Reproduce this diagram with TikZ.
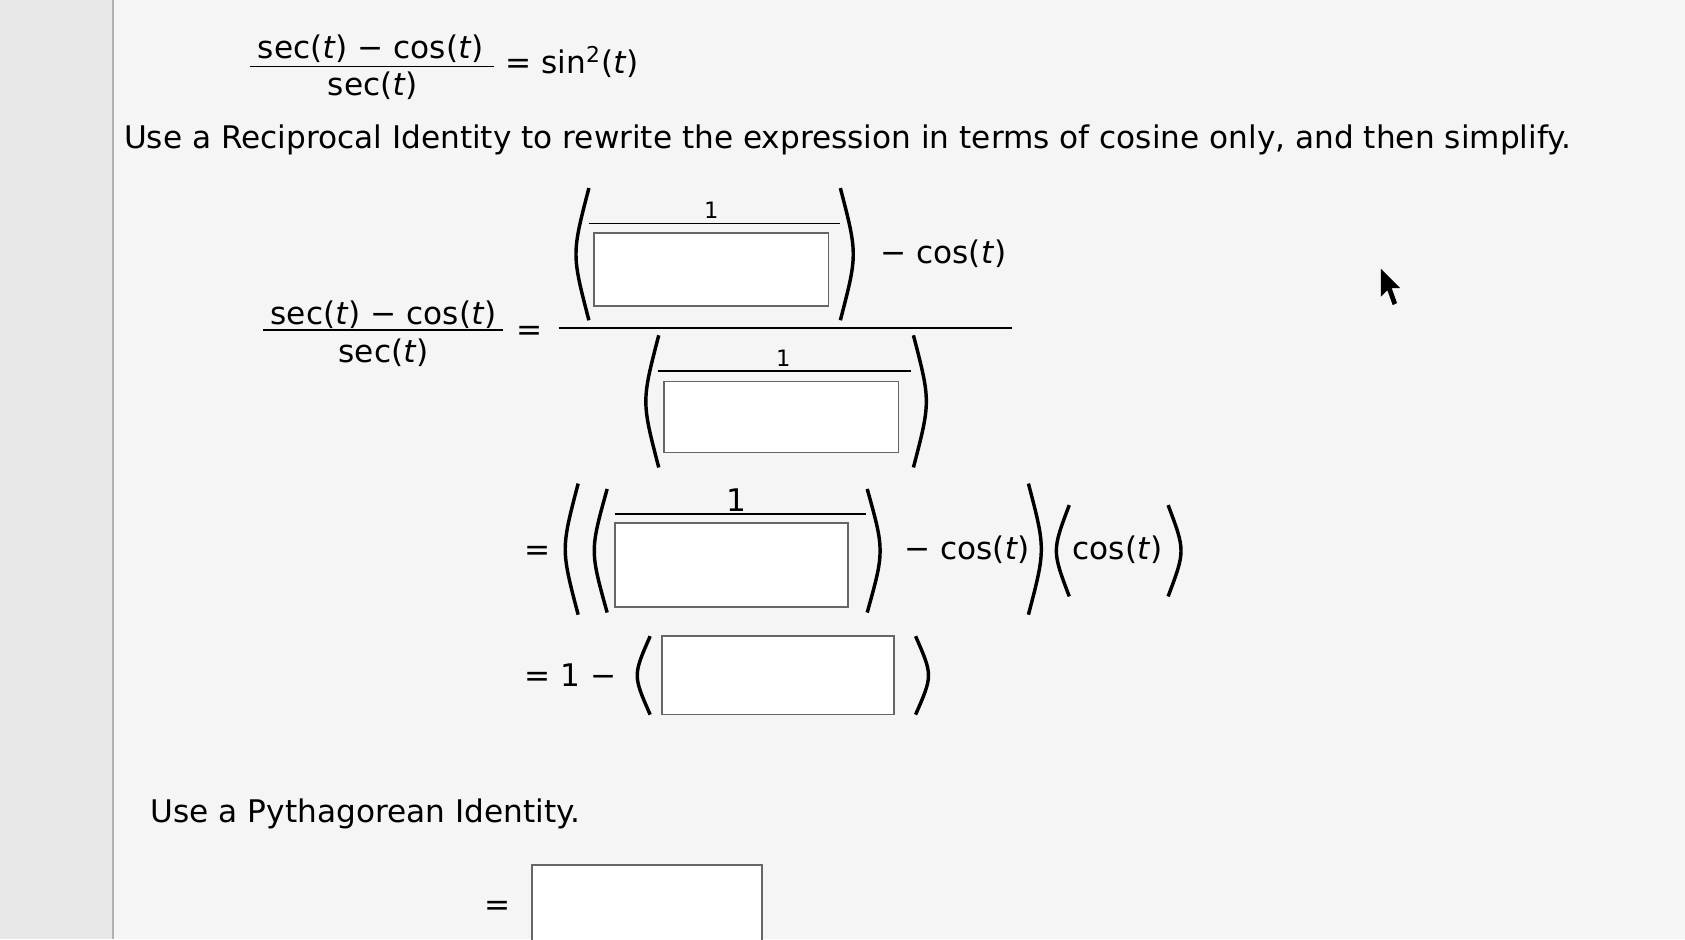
\documentclass[tikz,border=0pt]{standalone}
\usepackage{fontspec}
\setmainfont{DejaVu Sans}
\begin{document}
\begin{tikzpicture}[x=0.5pt,y=-0.5pt,
  txt/.style={inner sep=0pt,font=\fontsize{14.5}{17}\selectfont},
  sm/.style={inner sep=0pt,font=\fontsize{10.5}{12}\selectfont},
  box/.style={draw=black!60,line width=0.8pt,fill=white},
  bar/.style={line width=0.8pt},
  par/.style={line width=1.6pt}]
\useasboundingbox (0,0) rectangle (1568,874);
\fill[black!9] (0,0) rectangle (1568,874);
\fill[black!4] (105,0) rectangle (1568,874);
\draw[black!30,line width=1pt] (105,0) -- (105,874);
\newcommand{\lp}[3]{\draw[par] (#1+8,#2) .. controls (#1-8,{(#2+#3)/2}) .. (#1+8,#3);}
\newcommand{\rp}[3]{\draw[par] (#1-8,#2) .. controls (#1+8,{(#2+#3)/2}) .. (#1-8,#3);}
% top
\node[txt] (n0) at (345,45) {sec(\textit{t}) − cos(\textit{t})};
\draw[bar] (233,62) -- (460,62);
\node[txt] (d0) at (347,80) {sec(\textit{t})};
\node[txt,anchor=west] (e0) at (470,58) {= sin\textsuperscript{2}(\textit{t})};
\node[txt,anchor=west] (l1) at (115,130) {Use a Reciprocal Identity to rewrite the expression in terms of cosine only, and then simplify.};
% big fraction
\node[txt] (n1) at (357,293) {sec(\textit{t}) − cos(\textit{t})};
\draw[bar] (245,307) -- (468,307);
\node[txt] (d1) at (357,328) {sec(\textit{t})};
\node[txt] (eq1) at (493,310) {=};
\draw[bar] (520,305) -- (942,305);
\lp{540}{175}{298}\rp{790}{175}{298}
\node[sm] (o1) at (662,196) {1};
\draw[bar] (548,208) -- (782,208);
\draw[box] (553,217) rectangle (771,285);
\node[txt] (c1) at (878,236) {− cos(\textit{t})};
\lp{605}{312}{435}\rp{858}{312}{435}
\node[sm] (o2) at (729,333) {1};
\draw[bar] (612,345) -- (848,345);
\draw[box] (618,355) rectangle (836,421);
% row 2
\node[txt] (eq2) at (500,515) {=};
\lp{530}{450}{572}\lp{557}{455}{570}
\node[txt] (o3) at (685,465) {1};
\draw[bar] (572,478) -- (806,478);
\draw[box] (572,487) rectangle (789,565);
\rp{815}{455}{570}
\node[txt] (c2) at (900,512) {− cos(\textit{t})};
\rp{965}{450}{572}
\lp{987}{470}{555}
\node[txt] (c3) at (1040,512) {cos(\textit{t})};
\rp{1095}{470}{555}
% row 3
\node[txt,anchor=west] (eq3) at (488,628) {= 1 −};
\lp{597}{592}{665}
\draw[box] (616,592) rectangle (832,665);
\rp{860}{592}{665}
\node[txt,anchor=west] (l2) at (140,757) {Use a Pythagorean Identity.};
\node[txt] (eq4) at (463,845) {=};
\draw[box] (495,805) rectangle (709,890);
% cursor
\fill[black] (1285,250) -- (1285,276) -- (1291,270) -- (1296,284) -- (1300,282) -- (1295,268) -- (1303,268) -- cycle;
\end{tikzpicture}
\end{document}
